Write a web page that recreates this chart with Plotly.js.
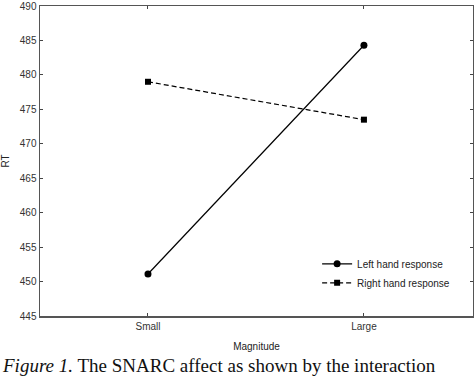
<!DOCTYPE html>
<html>
<head>
<meta charset="utf-8">
<script src="https://cdn.plot.ly/plotly-3.0.1.min.js"></script>
<style>html,body{margin:0;padding:0;background:#fff;}#chart{width:474px;height:379px;}</style>
</head>
<body>
<div id="chart"></div>
<script>
const categories = ["Small", "Large"];
const leftHand = [451.1, 484.3];
const rightHand = [479.0, 473.5];
const yTicks = [445, 450, 455, 460, 465, 470, 475, 480, 485, 490];
const seriesNames = ["Left hand response", "Right hand response"];

const xIdx = categories.map((c, i) => i);

const traces = [
  {
    x: xIdx, y: leftHand, name: seriesNames[0], type: "scatter", mode: "lines+markers",
    line: {color: "#000", width: 1.2, dash: "solid"},
    marker: {symbol: "circle", size: 7, color: "#000"}
  },
  {
    x: xIdx, y: rightHand, name: seriesNames[1], type: "scatter", mode: "lines+markers",
    line: {color: "#000", width: 1.2, dash: "5px,3px"},
    marker: {symbol: "square", size: 6, color: "#000"}
  }
];

const axisCommon = {
  showline: true, linecolor: "#555", linewidth: 1.5, mirror: "ticks",
  ticks: "inside", ticklen: 3, tickcolor: "#444", tickwidth: 1,
  showgrid: false, zeroline: false,
  tickfont: {family: "Liberation Sans, Arial, sans-serif", size: 10, color: "#333"}
};

const layout = {
  width: 474, height: 379,
  margin: {l: 40, r: 1, t: 6, b: 63},
  paper_bgcolor: "#fff", plot_bgcolor: "#fff",
  showlegend: true,
  legend: {
    x: 0.64, y: 0.215, xanchor: "left", yanchor: "top",
    font: {family: "Liberation Sans, Arial, sans-serif", size: 10, color: "#222"},
    bgcolor: "rgba(0,0,0,0)", itemwidth: 30, tracegroupgap: 0
  },
  xaxis: Object.assign({}, axisCommon, {
    range: [-0.5, 1.505], tickmode: "array", tickvals: xIdx, ticktext: categories,
    title: {text: "Magnitude", standoff: 12, font: {family: "Liberation Sans, Arial, sans-serif", size: 10, color: "#222"}}
  }),
  yaxis: Object.assign({}, axisCommon, {
    range: [445, 490], tickmode: "array", tickvals: yTicks, ticktext: yTicks.map(String),
    title: {text: "RT", standoff: 8, font: {family: "Liberation Sans, Arial, sans-serif", size: 10, color: "#222"}}
  }),
  annotations: [{
    xref: "paper", yref: "paper", x: -0.092, y: -0.2, xanchor: "left", yanchor: "bottom",
    showarrow: false, align: "left",
    text: "<i>Figure 1.</i> The SNARC affect as shown by the interaction",
    font: {family: "Liberation Serif, Times New Roman, serif", size: 19, color: "#111"}
  }]
};

Plotly.newPlot("chart", traces, layout, {displayModeBar: false, staticPlot: true});
</script>
</body>
</html>
